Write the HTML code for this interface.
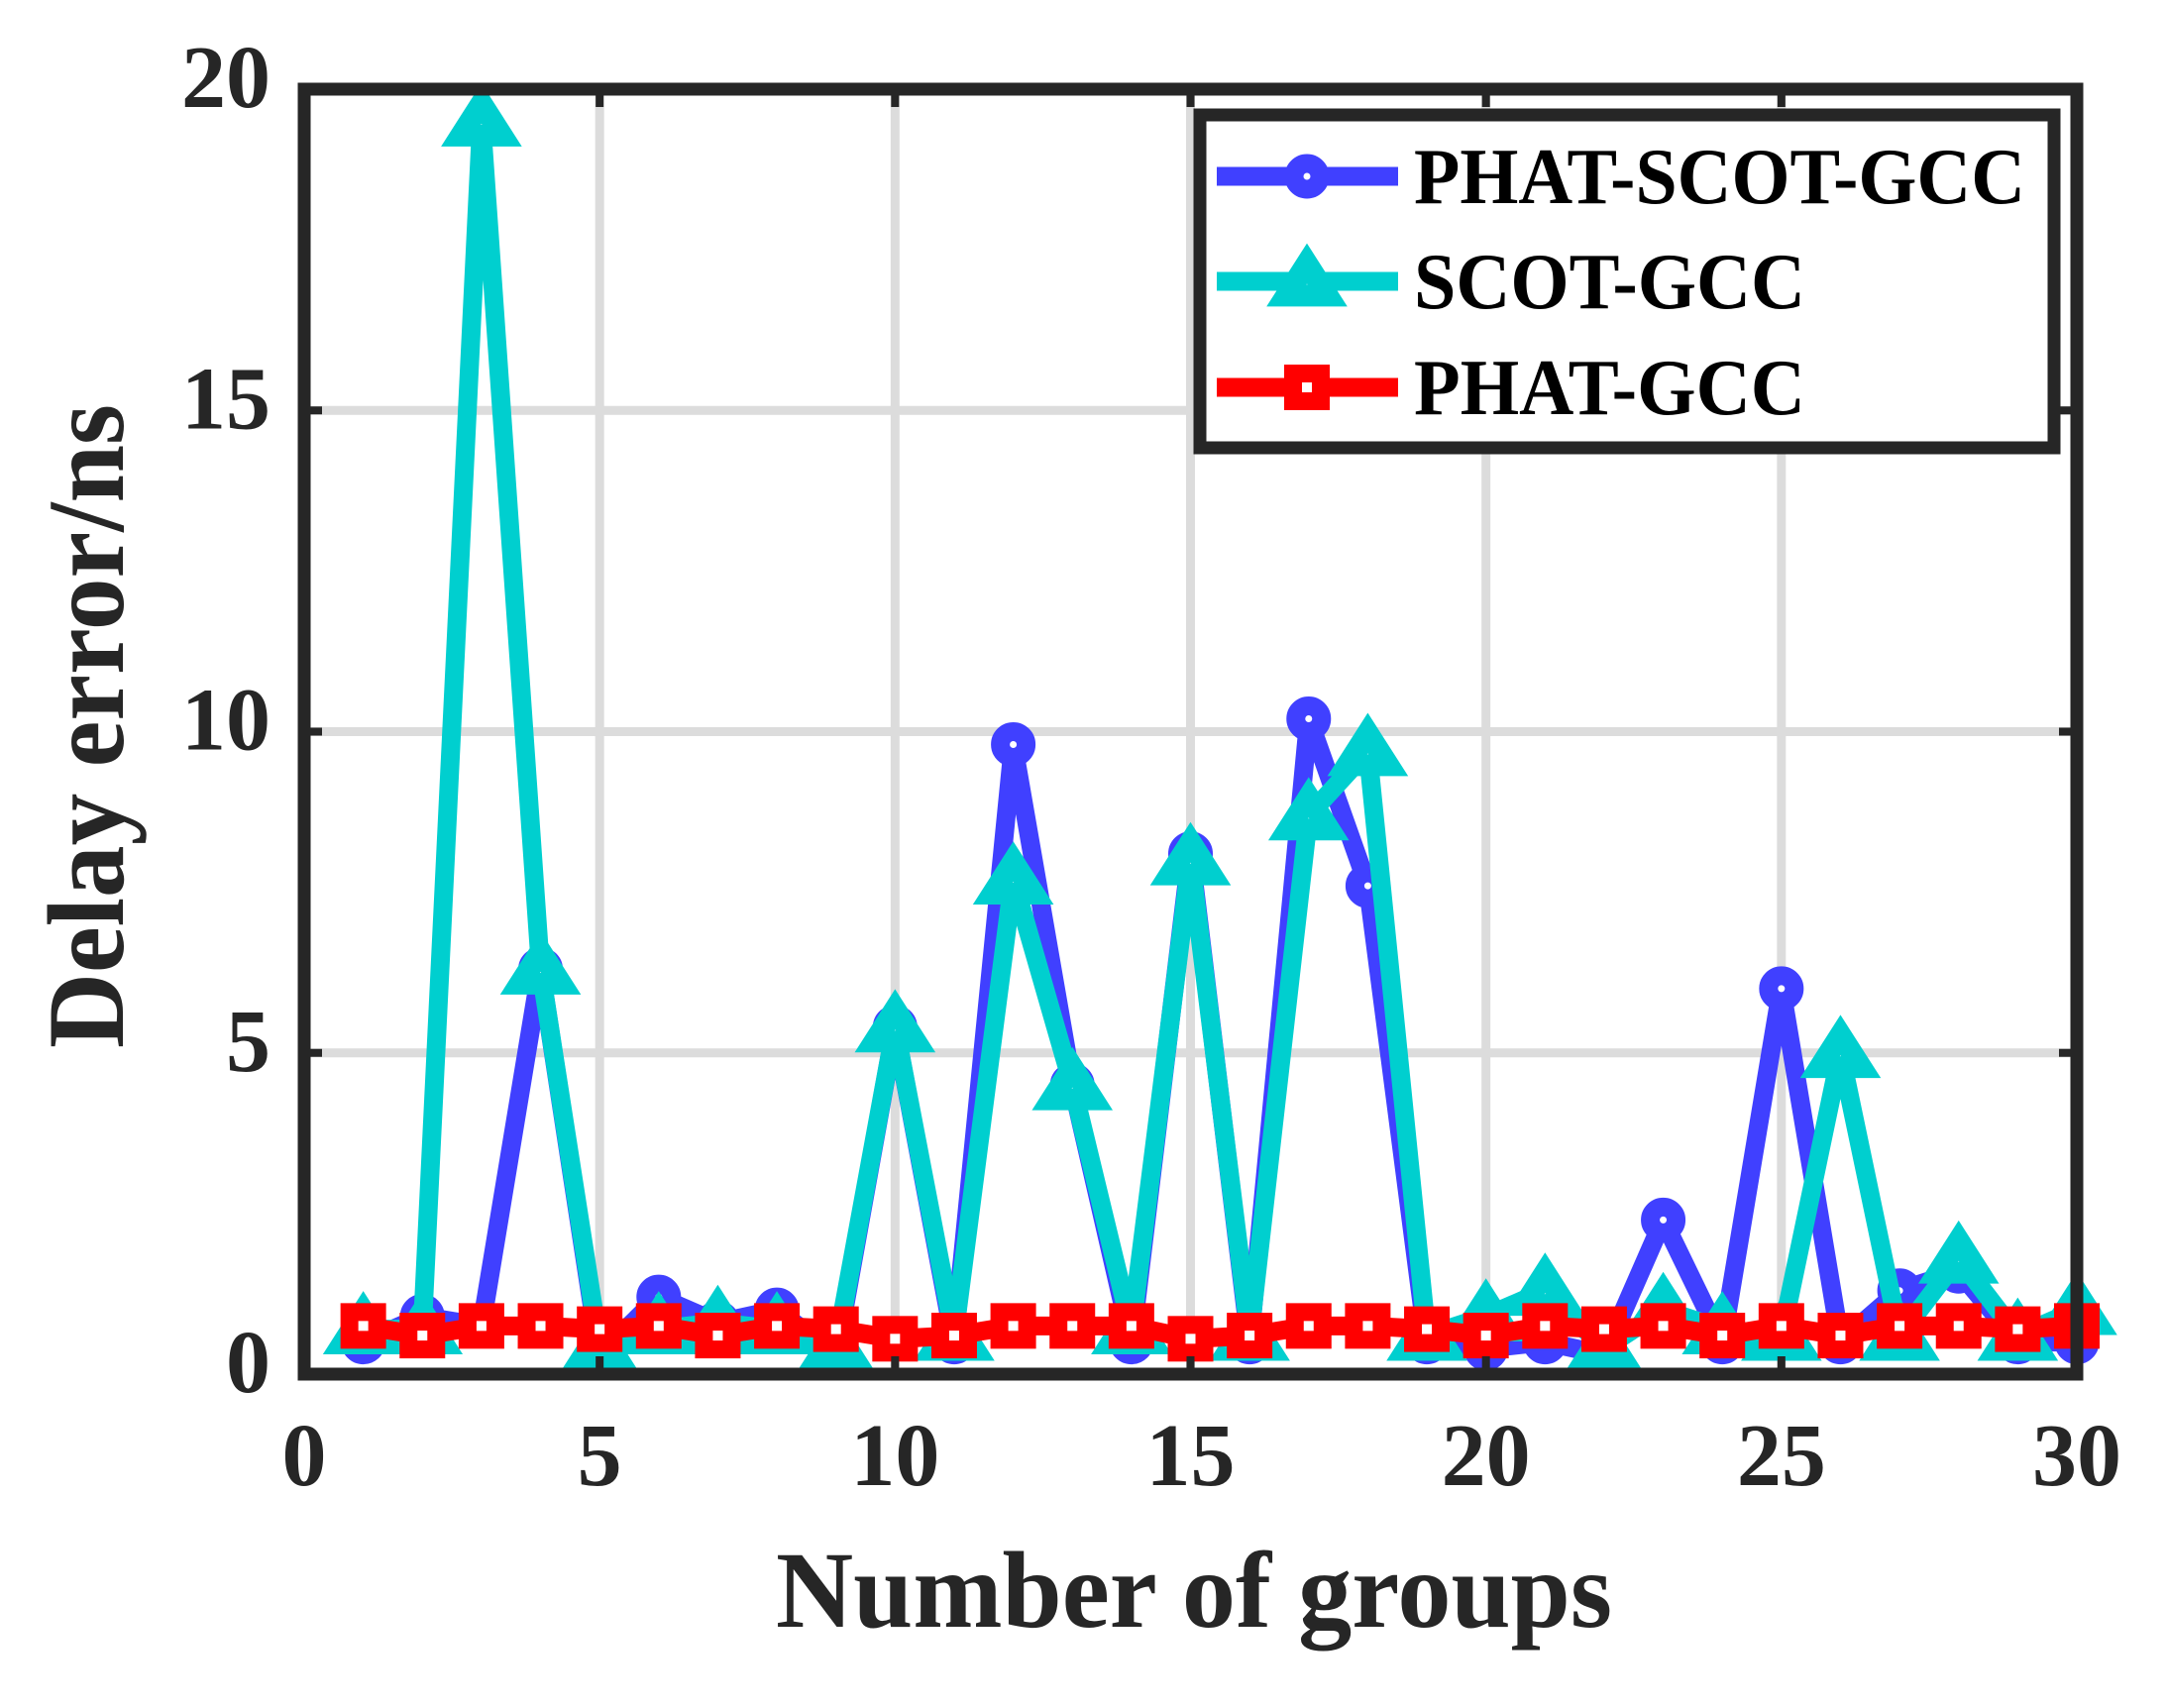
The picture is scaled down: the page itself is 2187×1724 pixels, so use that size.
<!DOCTYPE html>
<html><head><meta charset="utf-8"><style>
html,body{margin:0;padding:0;background:#fff;}
svg{display:block;}
text{font-family:"Liberation Serif",serif;font-weight:bold;fill:#262626;}
</style></head><body>
<svg id="chart" width="2187" height="1724" viewBox="0 0 2187 1724" xmlns="http://www.w3.org/2000/svg">
<rect width="2187" height="1724" fill="#fff"/>
<g id="grid"></g>
<g id="series"></g>
<g id="axes"></g>
<g id="legend"></g>
</svg>
<script>
const groups = [1,2,3,4,5,6,7,8,9,10,11,12,13,14,15,16,17,18,19,20,21,22,23,24,25,26,27,28,29,30];
const phatScotGcc = [0.5,0.9,0.75,6.3,0.3,1.2,0.8,1.0,0.3,5.4,0.5,9.8,4.5,0.5,8.1,0.5,10.2,7.6,0.5,0.4,0.5,0.3,2.4,0.5,6.0,0.5,1.3,1.6,0.5,0.5];
const scotGcc = [0.7,0.7,19.5,6.3,0.4,0.7,0.8,0.7,0.4,5.4,0.6,7.7,4.5,0.7,8.0,0.6,8.7,9.7,0.6,0.9,1.3,0.4,1.0,0.7,0.6,5.0,0.6,1.8,0.6,1.0];
const phatGcc = [0.75,0.6,0.75,0.75,0.7,0.75,0.6,0.75,0.7,0.55,0.6,0.75,0.75,0.75,0.55,0.6,0.75,0.75,0.7,0.6,0.75,0.7,0.75,0.6,0.75,0.6,0.75,0.75,0.7,0.75];
const xTicks = [0,5,10,15,20,25,30];
const yTicks = [0,5,10,15,20];
const seriesNames = ["PHAT-SCOT-GCC","SCOT-GCC","PHAT-GCC"];

const NS="http://www.w3.org/2000/svg";
const L=307,R=2096,T=90,B=1387, XMAX=30, YMAX=20;
function sx(v){return L+(R-L)*v/XMAX;}
function sy(v){return B-(B-T)*v/YMAX;}
function mk(tag,attrs,parent){const e=document.createElementNS(NS,tag);for(const k in attrs)e.setAttribute(k,attrs[k]);parent.appendChild(e);return e;}
const grid=document.getElementById('grid'),axes=document.getElementById('axes'),ser=document.getElementById('series'),leg=document.getElementById('legend');

xTicks.forEach(t=>{
  if(t>0&&t<XMAX){const g=mk('line',{x1:sx(t),x2:sx(t),y1:T,y2:B,stroke:'#dcdcdc','stroke-width':9},grid);
  
  }
  const a=mk('line',{x1:sx(t),x2:sx(t),y1:B,y2:B-18,stroke:'#262626','stroke-width':8},axes);
  
  
  const b=mk('line',{x1:sx(t),x2:sx(t),y1:T,y2:T+18,stroke:'#262626','stroke-width':8},axes);
  
  
  const tx=mk('text',{x:sx(t),y:1499,'text-anchor':'middle','font-size':90},axes);
  tx.textContent=t;
  
  
});
yTicks.forEach(t=>{
  if(t>0&&t<YMAX){const g=mk('line',{x1:L,x2:R,y1:sy(t),y2:sy(t),stroke:'#dcdcdc','stroke-width':9},grid);
  
  }
  const a=mk('line',{x1:L,x2:L+18,y1:sy(t),y2:sy(t),stroke:'#262626','stroke-width':8},axes);
  
  
  const b=mk('line',{x1:R,x2:R-18,y1:sy(t),y2:sy(t),stroke:'#262626','stroke-width':8},axes);
  
  
  const tx=mk('text',{x:273,y:sy(t)+18,'text-anchor':'end','font-size':90},axes);
  tx.textContent=t;
  
  
});
const box=mk('rect',{x:L,y:T,width:R-L,height:B-T,fill:'none',stroke:'#262626','stroke-width':13},axes);


const xl=mk('text',{x:1205,y:1642,'text-anchor':'middle','font-size':110,textLength:844,lengthAdjust:'spacingAndGlyphs'},axes);
xl.textContent='Number of groups';


const yl=mk('text',{x:0,y:0,'text-anchor':'middle','font-size':110,textLength:650,lengthAdjust:'spacingAndGlyphs',transform:'translate(124,733) rotate(-90)'},axes);
yl.textContent='Delay error/ns';



function circle(x,y,col,p){return mk('circle',{cx:x,cy:y,r:13,fill:'#fff',stroke:col,'stroke-width':19},p);}
function tri(x,y,col,p){const h=18;const pts=`${x},${y-h} ${x+h*1.15},${y+h*0.8} ${x-h*1.15},${y+h*0.8}`;return mk('polygon',{points:pts,fill:'#fff',stroke:col,'stroke-width':22,'stroke-linejoin':'miter'},p);}
function sq(x,y,col,p){return mk('rect',{x:x-14,y:y-14,width:28,height:28,fill:'#fff',stroke:col,'stroke-width':18},p);}

const defs=[[phatScotGcc,'#4040ff',circle,'phat-scot-gcc'],[scotGcc,'#00cfcf',tri,'scot-gcc'],[phatGcc,'#ff0000',sq,'phat-gcc']];
defs.forEach(([vals,col,fn,nm])=>{
  const g=mk('g',{},ser);
  
  
  const pl=mk('polyline',{points:groups.map((x,i)=>sx(x)+','+sy(vals[i])).join(' '),fill:'none',stroke:col,'stroke-width':19,'stroke-linejoin':'round'},g);
  
  
  groups.forEach((x,i)=>{const m=fn(sx(x),sy(vals[i]),col,g);
    
    });
});

const lb=mk('rect',{x:1211,y:116,width:862,height:336,fill:'#fff',stroke:'#262626','stroke-width':13},leg);


const rows=[178,284,391];
const lens=[617,395,395];
defs.forEach(([vals,col,fn,nm],i)=>{
  const g=mk('g',{},leg);
  
  
  mk('line',{x1:1228,x2:1411,y1:rows[i],y2:rows[i],stroke:col,'stroke-width':19},g);
  fn(1319,rows[i],col,g);
  const t=mk('text',{x:1427,y:rows[i]+27,'font-size':80,textLength:lens[i],lengthAdjust:'spacingAndGlyphs'},g);
  t.style.fill='#000';
  t.textContent=seriesNames[i];
  
  
});
</script>
</body></html>
